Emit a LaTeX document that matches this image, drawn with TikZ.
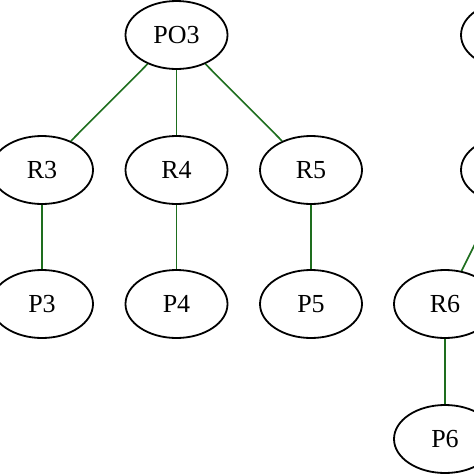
\documentclass[tikz,border=0pt]{standalone}
\usepackage{fontspec}
\setmainfont{Liberation Serif}
\usetikzlibrary{shapes.geometric}
\definecolor{edgegreen}{HTML}{1E6E1E}
\begin{document}
\begin{tikzpicture}[x=1pt,y=-1pt,
  vert/.style={draw=black,ellipse,line width=1.8pt,minimum width=102pt,minimum height=68pt,inner sep=0pt,
    font=\fontsize{26}{30}\selectfont},
  conn/.style={draw=edgegreen,line width=1.6pt}]
\useasboundingbox (0,0) rectangle (474,474);
\begin{scope}
\clip (0,0) rectangle (474,474);
\node[vert] (po3) at (176.5,35) {PO3};
\node[vert] (r3) at (42,170) {R3};
\node[vert] (r4) at (176.5,170) {R4};
\node[vert] (r5) at (311,170) {R5};
\node[vert] (p3) at (42,304) {P3};
\node[vert] (p4) at (176.5,304) {P4};
\node[vert] (p5) at (311,304) {P5};
\node[vert] (top2) at (512,35) {};
\node[vert] (mid2) at (512,170) {};
\node[vert] (r6) at (445,304) {R6};
\node[vert] (p6) at (445,439) {P6};
\draw[conn] (po3) -- (r3);
\draw[conn] (po3) -- (r4);
\draw[conn] (po3) -- (r5);
\draw[conn] (r3) -- (p3);
\draw[conn] (r4) -- (p4);
\draw[conn] (r5) -- (p5);
\draw[conn] (mid2) -- (r6);
\draw[conn] (r6) -- (p6);
\end{scope}
\end{tikzpicture}
\end{document}
